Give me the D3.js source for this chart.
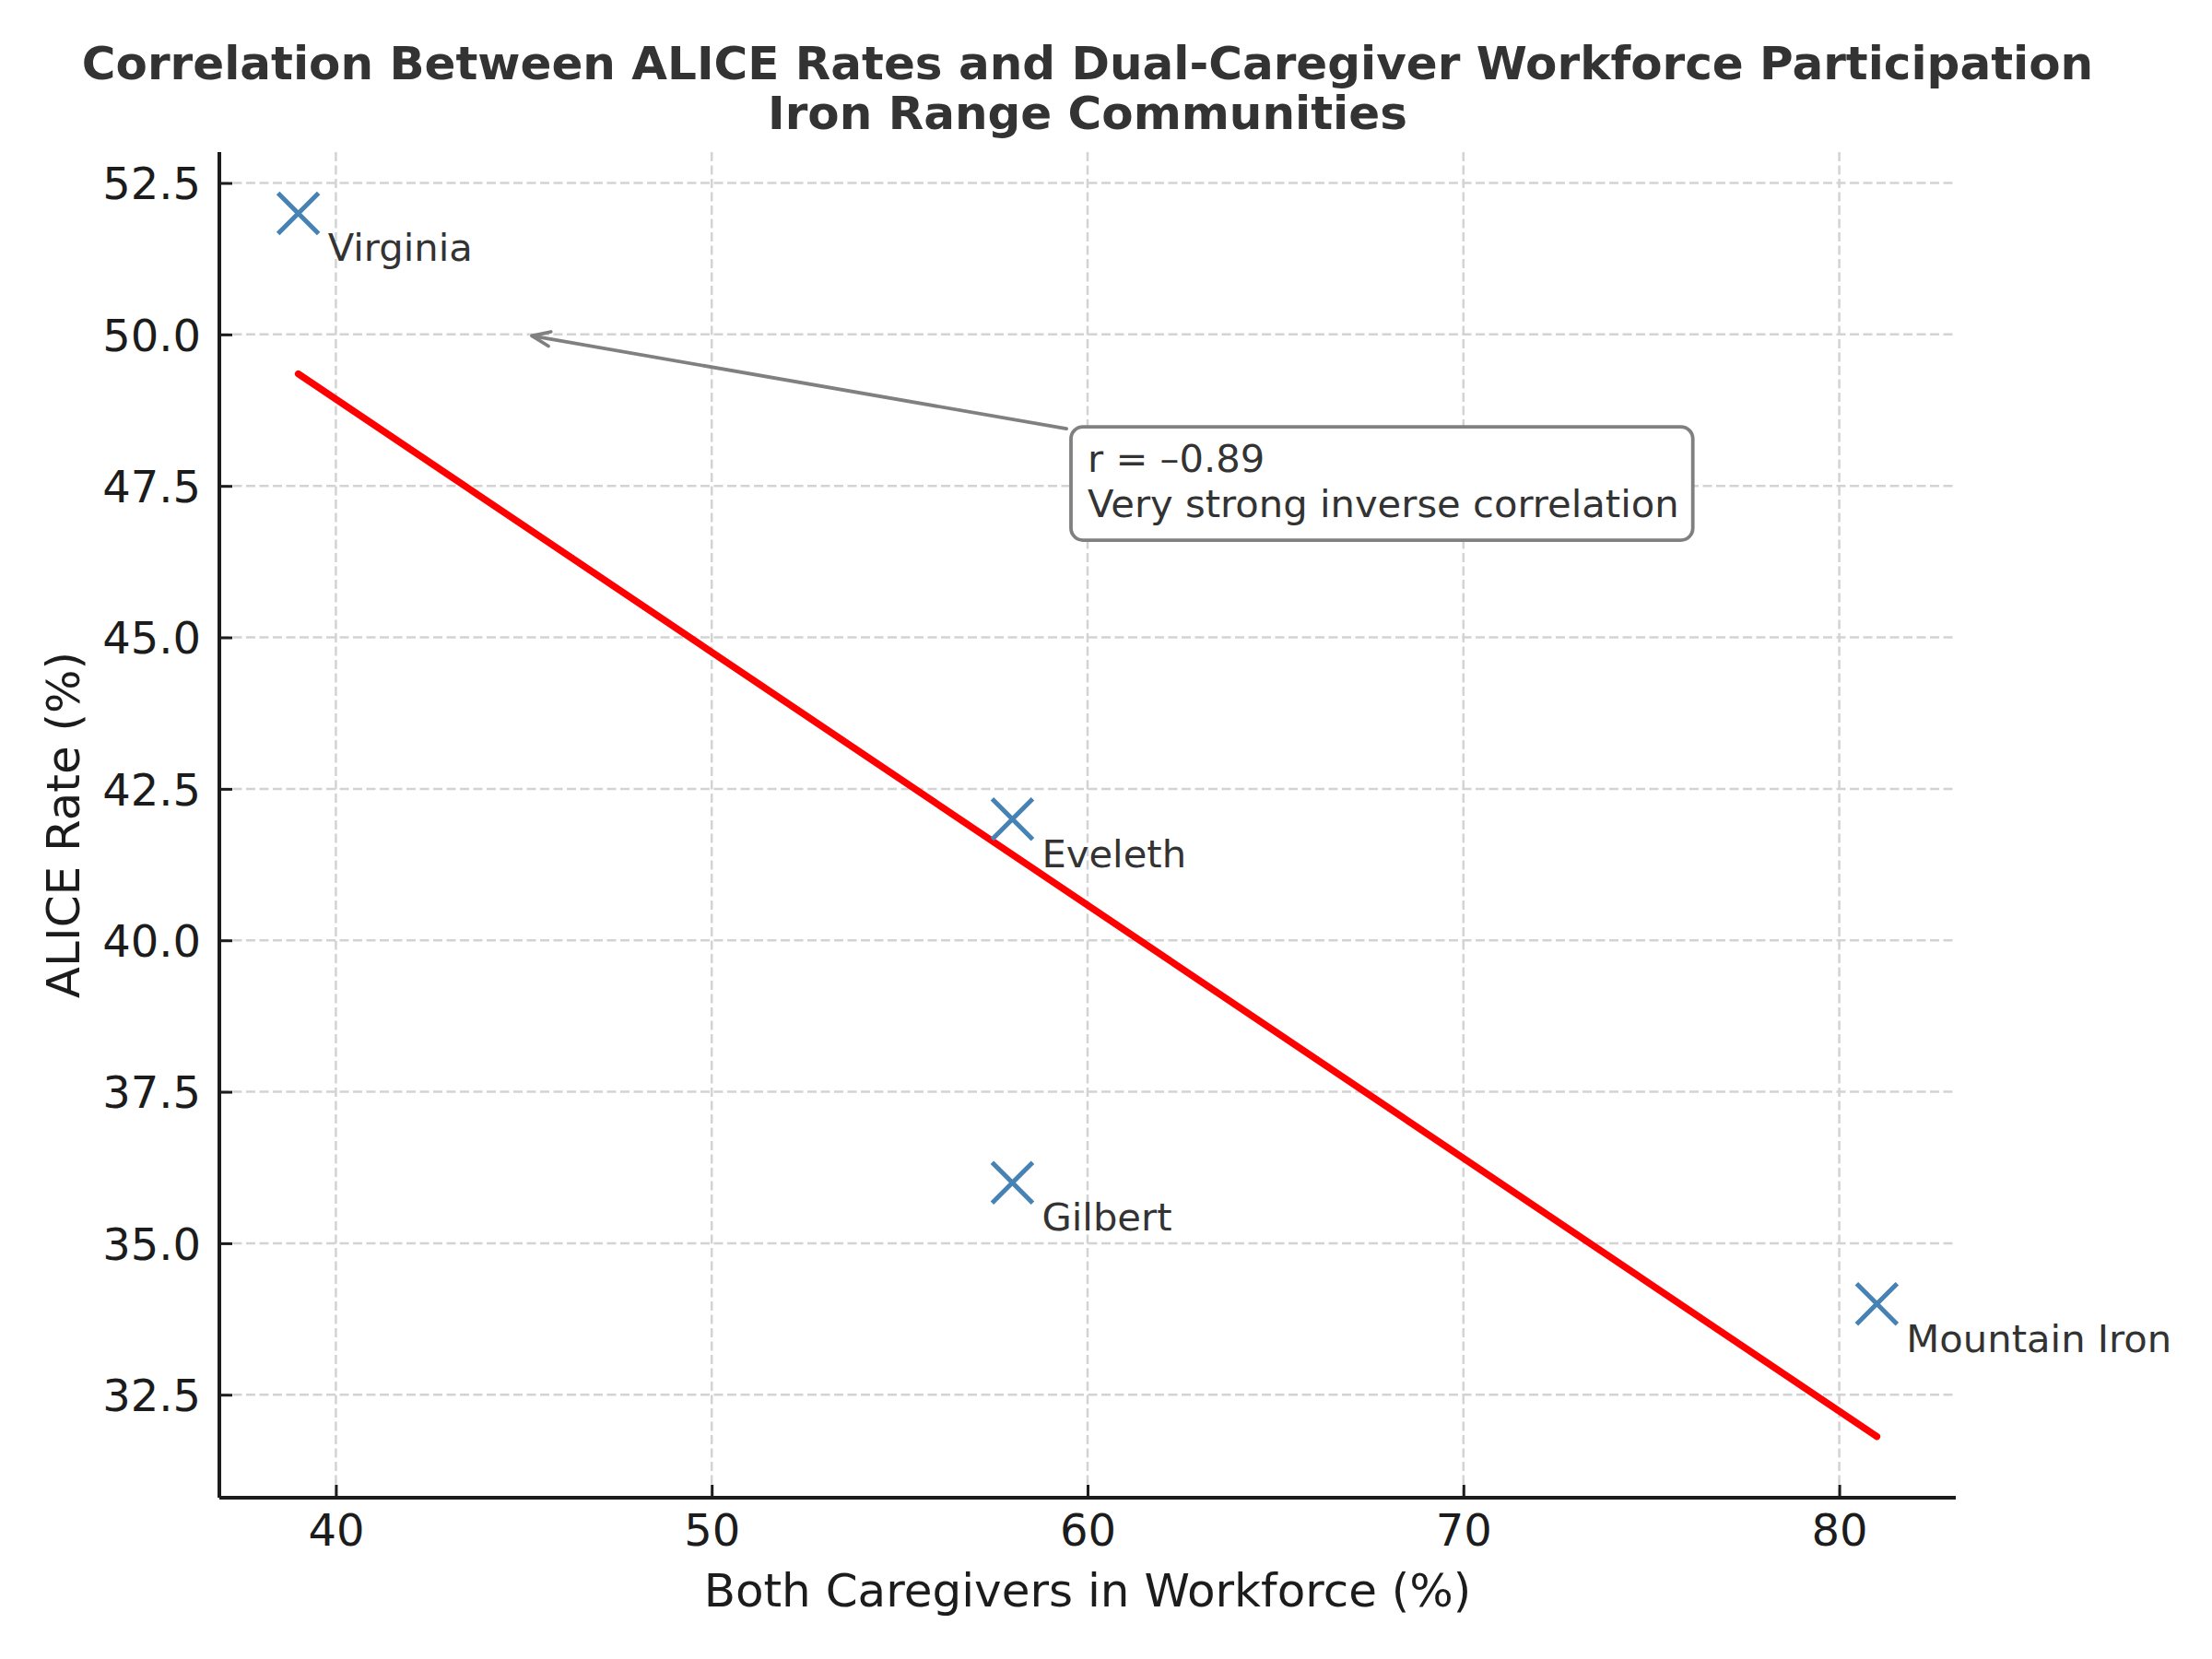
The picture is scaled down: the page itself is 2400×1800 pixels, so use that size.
<!DOCTYPE html>
<html>
<head>
<meta charset="utf-8">
<script src="https://cdn.jsdelivr.net/npm/d3@7"></script>
<style>
  html, body { margin: 0; padding: 0; background: #ffffff; }
  svg { display: block; font-family: "DejaVu Sans", sans-serif; }
</style>
</head>
<body>
<svg id="chart" width="2400" height="1800"></svg>
<script>
// ---------------- data ----------------
const communities   = ["Virginia", "Eveleth", "Gilbert", "Mountain Iron"];
const workforcePct  = [39, 58, 58, 81];          // Both caregivers in workforce (%)
const aliceRate     = [52, 42, 36, 34];          // ALICE rate (%)
const trendX        = [39, 81];                  // fitted line end points (x)
const trendY        = [49.35, 31.81];            // fitted line end points (y)
const xTicks        = [40, 50, 60, 70, 80];
const yTicks        = [32.5, 35.0, 37.5, 40.0, 42.5, 45.0, 47.5, 50.0, 52.5];
const titleLines    = ["Correlation Between ALICE Rates and Dual-Caregiver Workforce Participation",
                       "Iron Range Communities"];
const xLabel        = "Both Caregivers in Workforce (%)";
const yLabel        = "ALICE Rate (%)";
const annotLines    = ["r = \u20130.89", "Very strong inverse correlation"];
const annotTarget   = [45, 50];      // arrow points here (data coords)
const annotText     = [60, 47.73];   // first-line baseline of the note (data coords)
const xDomain       = [36.9, 83.1];
const yDomain       = [30.8, 53.01];

// ---------------- layout ----------------
const W = 2400, H = 1800;
const M = { left: 238, right: 2122, top: 165, bottom: 1625 };
const svg = d3.select("#chart");
svg.append("rect").attr("width", W).attr("height", H).attr("fill", "#ffffff");

const x = d3.scaleLinear().domain(xDomain).range([M.left, M.right]);
const y = d3.scaleLinear().domain(yDomain).range([M.bottom, M.top]);

const gridColor = "#d3d3d3";
const axisColor = "#1c1c1c";

// grid
const grid = svg.append("g");
grid.selectAll("line.gx").data(xTicks).join("line")
  .attr("x1", d => x(d)).attr("x2", d => x(d))
  .attr("y1", M.top).attr("y2", M.bottom)
  .attr("stroke", gridColor).attr("stroke-width", 2.5).attr("stroke-dasharray", "10,4.5");
grid.selectAll("line.gy").data(yTicks).join("line")
  .attr("y1", d => y(d)).attr("y2", d => y(d))
  .attr("x1", M.left).attr("x2", M.right)
  .attr("stroke", gridColor).attr("stroke-width", 2.5).attr("stroke-dasharray", "10,4.5");

// axes (ticks inward)
const xAxis = d3.axisBottom(x).tickValues(xTicks).tickFormat(d3.format("d"))
  .tickSizeInner(-14).tickSizeOuter(0).tickPadding(34);
const yAxis = d3.axisLeft(y).tickValues(yTicks).tickFormat(d3.format(".1f"))
  .tickSizeInner(-14).tickSizeOuter(0).tickPadding(34);

const gx = svg.append("g").attr("transform", `translate(0,${M.bottom})`).call(xAxis);
const gy = svg.append("g").attr("transform", `translate(${M.left},0)`).call(yAxis);
[gx, gy].forEach(g => {
  g.select(".domain").attr("stroke", axisColor).attr("stroke-width", 4);
  g.selectAll(".tick line").attr("stroke", axisColor).attr("stroke-width", 3);
  g.selectAll(".tick text").attr("fill", axisColor)
    .style("font-family", "DejaVu Sans").style("font-size", "48px");
});
gx.selectAll(".tick text").attr("dy", "0.71em").attr("y", 18);
gy.selectAll(".tick text").attr("x", -20).attr("dy", "0.36em");
gx.select(".domain").attr("d", `M${M.left},0H${M.right}`);
gy.select(".domain").attr("d", `M0,${M.top}V${M.bottom}`);

// axis labels
svg.append("text").attr("x", (M.left + M.right) / 2).attr("y", 1743)
  .attr("text-anchor", "middle").attr("fill", axisColor)
  .style("font-size", "50px").text(xLabel);
svg.append("text")
  .attr("transform", `translate(86,${(M.top + M.bottom) / 2}) rotate(-90)`)
  .attr("text-anchor", "middle").attr("fill", axisColor)
  .style("font-size", "50px").text(yLabel);

// title
svg.append("g").selectAll("text").data(titleLines).join("text")
  .attr("x", (M.left + M.right) / 2).attr("y", (d, i) => 86 + i * 54)
  .attr("text-anchor", "middle").attr("fill", "#333333")
  .style("font-size", "50px").style("font-weight", "bold").text(d => d);

// trend line
svg.append("path")
  .attr("d", d3.line()(trendX.map((v, i) => [x(v), y(trendY[i])])))
  .attr("fill", "none").attr("stroke", "#ff0000").attr("stroke-width", 7.5)
  .attr("stroke-linecap", "round");

// markers
const pts = communities.map((c, i) => ({ name: c, xv: workforcePct[i], yv: aliceRate[i] }));
const s = 22;
const mk = svg.append("g").selectAll("g").data(pts).join("g")
  .attr("transform", d => `translate(${x(d.xv)},${y(d.yv)})`);
mk.append("path").attr("d", `M${-s},${-s}L${s},${s}M${-s},${s}L${s},${-s}`)
  .attr("stroke", "#4682b4").attr("stroke-width", 5).attr("fill", "none");
mk.append("text").attr("x", 32).attr("y", 52).attr("fill", "#333333")
  .style("font-size", "41.7px").text(d => d.name);

// annotation box + text
const fs = 41.7;
const ax = x(annotText[0]), ay = y(annotText[1]);
const note = svg.append("g");
const boxRect = note.append("rect");
const nt = note.append("g").selectAll("text").data(annotLines).join("text")
  .attr("x", ax).attr("y", (d, i) => ay + i * 49)
  .attr("fill", "#333333").style("font-size", fs + "px").text(d => d);
let maxW = 0;
nt.each(function () { maxW = Math.max(maxW, this.getComputedTextLength()); });
const bx0 = ax - 18, bx1 = ax + maxW + 15;
const by0 = ay - 49, by1 = ay + 49 + 25;
boxRect.attr("x", bx0).attr("y", by0).attr("width", bx1 - bx0).attr("height", by1 - by0)
  .attr("rx", 13).attr("ry", 13)
  .attr("fill", "#ffffff").attr("stroke", "#808080").attr("stroke-width", 3.8);

// arrow: from box edge toward target
const cx = (bx0 + bx1) / 2, cy = (by0 + by1) / 2;
const tx = x(annotTarget[0]), ty = y(annotTarget[1]);
const dx = tx - cx, dy = ty - cy;
const tEdge = Math.min(Math.abs((bx0 - cx) / dx), Math.abs((by0 - cy) / dy));
const len = Math.hypot(dx, dy);
const ux = dx / len, uy = dy / len;
const sx = cx + dx * tEdge + ux * 5, sy = cy + dy * tEdge + uy * 5;
const ex = tx - ux * 9, ey = ty - uy * 9;
const arrow = svg.append("g").attr("stroke", "#808080").attr("stroke-width", 3.8)
  .attr("fill", "none").attr("stroke-linecap", "round").attr("stroke-linejoin", "round");
arrow.append("line").attr("x1", sx).attr("y1", sy).attr("x2", ex).attr("y2", ey);
const ang = Math.atan2(-uy, -ux), hl = 21, ha = 22 * Math.PI / 180;
const p1 = [ex + hl * Math.cos(ang - ha), ey + hl * Math.sin(ang - ha)];
const p2 = [ex + hl * Math.cos(ang + ha), ey + hl * Math.sin(ang + ha)];
arrow.append("path").attr("d", `M${p1[0]},${p1[1]}L${ex},${ey}L${p2[0]},${p2[1]}`);
note.raise();
</script>
</body>
</html>
